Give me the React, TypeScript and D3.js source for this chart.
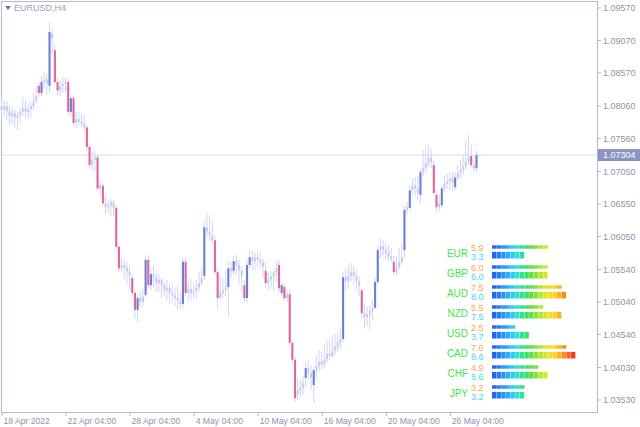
import React from 'react';
import * as d3 from 'd3';

// EURUSD H4 candles: [open, high, low, close]
const bars: [number, number, number, number][] = [
  [1.0806, 1.0818, 1.0787, 1.0800], [1.0800, 1.0815, 1.0790, 1.0806], [1.0806, 1.0813, 1.0784, 1.0798],
  [1.0798, 1.0806, 1.0776, 1.0790], [1.0790, 1.0803, 1.0778, 1.0795], [1.0795, 1.0800, 1.0772, 1.0788],
  [1.0788, 1.0798, 1.0769, 1.0792], [1.0792, 1.0803, 1.0778, 1.0797], [1.0797, 1.0820, 1.0790, 1.0803],
  [1.0803, 1.0815, 1.0787, 1.0797], [1.0797, 1.0810, 1.0786, 1.0801], [1.0801, 1.0812, 1.0789, 1.0806],
  [1.0806, 1.0827, 1.0800, 1.0814], [1.0814, 1.0837, 1.0809, 1.0821], [1.0837, 1.0843, 1.0820, 1.0826],
  [1.0826, 1.0852, 1.0821, 1.0843], [1.0843, 1.0858, 1.0833, 1.0847], [1.0847, 1.0855, 1.0824, 1.0840],
  [1.0837, 1.0935, 1.0827, 1.0920], [1.0917, 1.0926, 1.0884, 1.0910], [1.0892, 1.0900, 1.0840, 1.0843],
  [1.0843, 1.0849, 1.0823, 1.0830], [1.0830, 1.0846, 1.0821, 1.0837], [1.0837, 1.0850, 1.0826, 1.0840],
  [1.0840, 1.0849, 1.0827, 1.0843], [1.0843, 1.0849, 1.0792, 1.0797], [1.0797, 1.0823, 1.0790, 1.0818],
  [1.0818, 1.0823, 1.0775, 1.0780], [1.0780, 1.0797, 1.0772, 1.0786], [1.0786, 1.0798, 1.0776, 1.0782],
  [1.0782, 1.0795, 1.0773, 1.0778], [1.0778, 1.0792, 1.0766, 1.0773], [1.0773, 1.0776, 1.0738, 1.0743],
  [1.0743, 1.0746, 1.0710, 1.0715], [1.0715, 1.0735, 1.0707, 1.0723], [1.0723, 1.0738, 1.0704, 1.0727],
  [1.0727, 1.0730, 1.0676, 1.0679], [1.0679, 1.0692, 1.0667, 1.0684], [1.0683, 1.0687, 1.0652, 1.0656],
  [1.0656, 1.0667, 1.0639, 1.0650], [1.0650, 1.0661, 1.0640, 1.0653], [1.0653, 1.0664, 1.0636, 1.0658],
  [1.0658, 1.0661, 1.0635, 1.0649], [1.0649, 1.0653, 1.0584, 1.0589], [1.0589, 1.0592, 1.0550, 1.0556],
  [1.0556, 1.0572, 1.0550, 1.0561], [1.0561, 1.0570, 1.0540, 1.0557], [1.0557, 1.0566, 1.0530, 1.0551],
  [1.0551, 1.0559, 1.0522, 1.0545], [1.0541, 1.0547, 1.0513, 1.0518], [1.0518, 1.0522, 1.0479, 1.0492],
  [1.0492, 1.0515, 1.0473, 1.0510], [1.0510, 1.0522, 1.0495, 1.0504], [1.0504, 1.0525, 1.0498, 1.0512],
  [1.0515, 1.0576, 1.0512, 1.0569], [1.0569, 1.0576, 1.0525, 1.0530], [1.0530, 1.0556, 1.0522, 1.0547],
  [1.0547, 1.0561, 1.0525, 1.0541], [1.0541, 1.0553, 1.0519, 1.0533], [1.0533, 1.0548, 1.0520, 1.0538],
  [1.0538, 1.0541, 1.0510, 1.0530], [1.0530, 1.0535, 1.0513, 1.0522], [1.0522, 1.0538, 1.0507, 1.0526],
  [1.0526, 1.0532, 1.0501, 1.0518], [1.0518, 1.0530, 1.0503, 1.0514], [1.0514, 1.0525, 1.0498, 1.0510],
  [1.0510, 1.0529, 1.0492, 1.0506], [1.0506, 1.0519, 1.0492, 1.0501], [1.0501, 1.0572, 1.0495, 1.0566],
  [1.0566, 1.0572, 1.0513, 1.0518], [1.0518, 1.0535, 1.0507, 1.0524], [1.0524, 1.0541, 1.0507, 1.0518],
  [1.0518, 1.0533, 1.0509, 1.0521], [1.0521, 1.0538, 1.0510, 1.0526], [1.0526, 1.0550, 1.0519, 1.0533],
  [1.0533, 1.0556, 1.0529, 1.0541], [1.0544, 1.0627, 1.0538, 1.0619], [1.0619, 1.0641, 1.0604, 1.0613],
  [1.0613, 1.0638, 1.0599, 1.0607], [1.0607, 1.0627, 1.0592, 1.0599], [1.0599, 1.0606, 1.0545, 1.0550],
  [1.0550, 1.0556, 1.0492, 1.0510], [1.0510, 1.0545, 1.0507, 1.0518], [1.0518, 1.0540, 1.0510, 1.0522],
  [1.0522, 1.0553, 1.0513, 1.0527], [1.0527, 1.0566, 1.0481, 1.0556], [1.0556, 1.0566, 1.0541, 1.0552],
  [1.0552, 1.0575, 1.0545, 1.0567], [1.0567, 1.0576, 1.0545, 1.0561], [1.0561, 1.0569, 1.0530, 1.0553],
  [1.0553, 1.0559, 1.0519, 1.0545], [1.0530, 1.0538, 1.0504, 1.0510], [1.0510, 1.0569, 1.0504, 1.0561],
  [1.0561, 1.0584, 1.0556, 1.0573], [1.0573, 1.0584, 1.0553, 1.0567], [1.0567, 1.0581, 1.0553, 1.0573],
  [1.0573, 1.0582, 1.0558, 1.0569], [1.0569, 1.0579, 1.0556, 1.0565], [1.0565, 1.0572, 1.0541, 1.0558],
  [1.0552, 1.0566, 1.0525, 1.0533], [1.0533, 1.0550, 1.0522, 1.0539], [1.0539, 1.0552, 1.0525, 1.0543],
  [1.0543, 1.0553, 1.0522, 1.0549], [1.0549, 1.0566, 1.0535, 1.0556], [1.0561, 1.0569, 1.0519, 1.0525],
  [1.0518, 1.0535, 1.0513, 1.0530], [1.0527, 1.0532, 1.0507, 1.0510], [1.0510, 1.0522, 1.0504, 1.0516],
  [1.0516, 1.0522, 1.0436, 1.0441], [1.0441, 1.0445, 1.0408, 1.0415], [1.0415, 1.0421, 1.0350, 1.0356],
  [1.0361, 1.0387, 1.0353, 1.0368], [1.0368, 1.0384, 1.0358, 1.0372], [1.0372, 1.0391, 1.0361, 1.0378],
  [1.0387, 1.0412, 1.0371, 1.0402], [1.0402, 1.0415, 1.0384, 1.0395], [1.0395, 1.0407, 1.0368, 1.0387],
  [1.0376, 1.0405, 1.0348, 1.0399], [1.0399, 1.0422, 1.0387, 1.0405], [1.0405, 1.0430, 1.0396, 1.0412],
  [1.0412, 1.0428, 1.0400, 1.0408], [1.0408, 1.0438, 1.0402, 1.0416], [1.0416, 1.0445, 1.0410, 1.0424],
  [1.0424, 1.0448, 1.0415, 1.0421], [1.0421, 1.0453, 1.0418, 1.0429], [1.0429, 1.0455, 1.0422, 1.0435],
  [1.0435, 1.0458, 1.0427, 1.0441], [1.0441, 1.0464, 1.0433, 1.0447], [1.0447, 1.0550, 1.0442, 1.0542],
  [1.0542, 1.0556, 1.0522, 1.0536], [1.0536, 1.0561, 1.0525, 1.0544], [1.0544, 1.0564, 1.0535, 1.0550],
  [1.0550, 1.0561, 1.0530, 1.0544], [1.0544, 1.0553, 1.0522, 1.0536], [1.0536, 1.0544, 1.0513, 1.0529],
  [1.0522, 1.0525, 1.0479, 1.0487], [1.0487, 1.0499, 1.0464, 1.0481], [1.0481, 1.0497, 1.0466, 1.0485],
  [1.0485, 1.0499, 1.0461, 1.0490], [1.0490, 1.0507, 1.0476, 1.0495], [1.0495, 1.0541, 1.0492, 1.0535],
  [1.0535, 1.0590, 1.0530, 1.0584], [1.0584, 1.0602, 1.0572, 1.0590], [1.0590, 1.0599, 1.0575, 1.0584],
  [1.0584, 1.0596, 1.0570, 1.0580], [1.0580, 1.0592, 1.0566, 1.0575], [1.0575, 1.0587, 1.0566, 1.0569],
  [1.0566, 1.0575, 1.0545, 1.0550], [1.0550, 1.0576, 1.0545, 1.0558], [1.0558, 1.0587, 1.0553, 1.0566],
  [1.0566, 1.0593, 1.0562, 1.0573], [1.0584, 1.0652, 1.0572, 1.0646], [1.0646, 1.0658, 1.0639, 1.0650],
  [1.0649, 1.0683, 1.0643, 1.0676], [1.0676, 1.0695, 1.0669, 1.0683], [1.0683, 1.0697, 1.0668, 1.0679],
  [1.0679, 1.0699, 1.0661, 1.0672], [1.0669, 1.0710, 1.0656, 1.0704], [1.0704, 1.0738, 1.0698, 1.0710],
  [1.0710, 1.0746, 1.0704, 1.0718], [1.0718, 1.0746, 1.0712, 1.0726], [1.0726, 1.0741, 1.0710, 1.0720],
  [1.0715, 1.0723, 1.0669, 1.0672], [1.0669, 1.0676, 1.0641, 1.0650], [1.0650, 1.0669, 1.0643, 1.0656],
  [1.0653, 1.0684, 1.0649, 1.0679], [1.0679, 1.0698, 1.0673, 1.0686], [1.0686, 1.0702, 1.0678, 1.0690],
  [1.0690, 1.0704, 1.0676, 1.0694], [1.0694, 1.0704, 1.0676, 1.0688], [1.0681, 1.0704, 1.0676, 1.0696],
  [1.0696, 1.0715, 1.0692, 1.0703], [1.0703, 1.0722, 1.0695, 1.0707], [1.0707, 1.0730, 1.0699, 1.0713],
  [1.0713, 1.0753, 1.0707, 1.0720], [1.0720, 1.0761, 1.0715, 1.0727], [1.0729, 1.0746, 1.0710, 1.0715],
  [1.0715, 1.0723, 1.0704, 1.0710], [1.0710, 1.0738, 1.0704, 1.07304],
];

const priceTicks = [1.0957, 1.0907, 1.0857, 1.0806, 1.0756, 1.0705, 1.0655, 1.0605, 1.0554, 1.0504, 1.0454, 1.0403, 1.0353];
const timeTickBars = [0, 24, 48, 72, 96, 120, 144, 168];
const timeTickLabels = ['18 Apr 2022', '22 Apr 04:00', '28 Apr 04:00', '4 May 04:00', '10 May 04:00', '16 May 04:00', '20 May 04:00', '26 May 04:00'];
const lastPrice = 1.07304;
const symbolTitle = 'EURUSD,H4';

// currency strength panel
const currencies = ['EUR', 'GBP', 'AUD', 'NZD', 'USD', 'CAD', 'CHF', 'JPY'];
const strengthFast = [5.9, 6.0, 7.5, 5.5, 2.5, 7.6, 4.9, 3.2];
const strengthSlow = [3.3, 6.0, 8.0, 7.5, 3.7, 8.6, 5.6, 3.2];

const W = 640;
const H = 427;
const plot = { left: 2, top: 2, right: 597, bottom: 412 };
const axisFont = '"Liberation Sans", Arial, sans-serif';
const bigMove = 0.001; // bodies at least this tall get the strong colours

export default function App() {
  const x = d3.scaleLinear().domain([0, bars.length - 1]).range([1.5, 476.5]);
  const y = d3.scaleLinear().domain([1.0353, 1.0957]).range([400, 8]);

  // strength bars
  const sx = d3.scaleLinear().domain([0, 10]).range([492, 585]);
  const rowY = d3.scaleLinear().domain([0, currencies.length - 1]).range([253.3, 393.3]);
  const heat = d3.scaleLinear<string>()
    .domain([0, 1.5, 2.5, 4, 5.5, 6.5, 7.5, 9])
    .range(['#1f58ff', '#2a9dff', '#22e0f0', '#44e044', '#c8e82a', '#ffe01e', '#ffa020', '#ff2222'])
    .clamp(true);

  const blocks = (v: number, top: number, h: number, gap: number, key: string) => {
    const n = Math.ceil(v * 2 - 1e-9);
    return d3.range(n).map(k => (
      <rect
        key={`${key}-${k}`}
        x={sx(k / 2)}
        y={top}
        width={sx((k + 1) / 2) - sx(k / 2) - gap}
        height={h}
        fill={heat((k + 0.5) / 2)}
      />
    ));
  };

  return (
    <div style={{ position: 'fixed', left: 0, top: 0 }}>
      <svg width={W} height={H} style={{ display: 'block', background: '#fff' }}>
        {/* frame */}
        <rect x={plot.left - 0.5} y={plot.top - 0.5} width={plot.right - plot.left + 1} height={plot.bottom - plot.top + 1}
          fill="none" stroke="#b4b8ca" strokeWidth={1} />

        {/* current price line */}
        <line x1={plot.left} x2={plot.right} y1={y(lastPrice)} y2={y(lastPrice)} stroke="#d9dce6" strokeWidth={1} />

        {/* candles */}
        <g>
          {bars.map(([o, h, l, c], i) => {
            const cx = x(i);
            const strong = Math.abs(c - o) >= bigMove;
            const body = strong ? (c > o ? '#6a7ed8' : '#e0669a') : '#c6ccf1';
            const top = y(Math.max(o, c));
            const bh = Math.max(1, Math.abs(y(o) - y(c)));
            return (
              <g key={i}>
                <rect x={cx - 0.45} y={y(h)} width={0.9} height={y(l) - y(h)} fill="#ccd1f2" />
                <rect x={cx - 1.05} y={top} width={2.1} height={bh} fill={body} />
              </g>
            );
          })}
        </g>

        {/* right price axis */}
        <g fontFamily={axisFont} fontSize={9} fill="#8e94ae">
          {priceTicks.map(p => (
            <g key={p}>
              <line x1={plot.right} x2={plot.right + 4} y1={y(p)} y2={y(p)} stroke="#b4b8ca" />
              <text x={603} y={y(p)} dy="0.35em">{p.toFixed(5)}</text>
            </g>
          ))}
        </g>
        <rect x={598} y={y(lastPrice) - 6} width={42} height={12} fill="#8a93c6" />
        <text x={603} y={y(lastPrice)} dy="0.35em" fontFamily={axisFont} fontSize={9} fill="#ffffff">
          {lastPrice.toFixed(5)}
        </text>

        {/* bottom time axis */}
        <g fontFamily={axisFont} fontSize={8.6} fill="#8e94ae">
          {timeTickBars.map((b, k) => (
            <g key={b}>
              <line x1={x(b) + 0.5} x2={x(b) + 0.5} y1={plot.bottom} y2={plot.bottom + 4} stroke="#b4b8ca" />
              <text x={x(b) + 2} y={424}>{timeTickLabels[k]}</text>
            </g>
          ))}
        </g>

        {/* title */}
        <path d="M5,6 L11,6 L8,10 Z" fill="#70758e" />
        <text x={14} y={11} fontFamily={axisFont} fontSize={9} fill="#9aa0b8">{symbolTitle}</text>

        {/* currency strength panel */}
        <g fontFamily={axisFont}>
          {currencies.map((cur, k) => {
            const cy = rowY(k);
            return (
              <g key={cur}>
                <text x={468} y={cy} dy="0.35em" textAnchor="end" fontSize={10} fill="#3fe63f">{cur}</text>
                <text x={471} y={cy - 5.6} dy="0.35em" fontSize={9} fill="#ffa548">{strengthFast[k].toFixed(1)}</text>
                <text x={471} y={cy + 3.2} dy="0.35em" fontSize={9} fill="#3fd8ff">{strengthSlow[k].toFixed(1)}</text>
                {blocks(strengthFast[k], cy - 8, 3.4, 0, `f${k}`)}
                {blocks(strengthSlow[k], cy - 1.4, 6.6, 0.35, `s${k}`)}
              </g>
            );
          })}
        </g>
      </svg>
    </div>
  );
}
